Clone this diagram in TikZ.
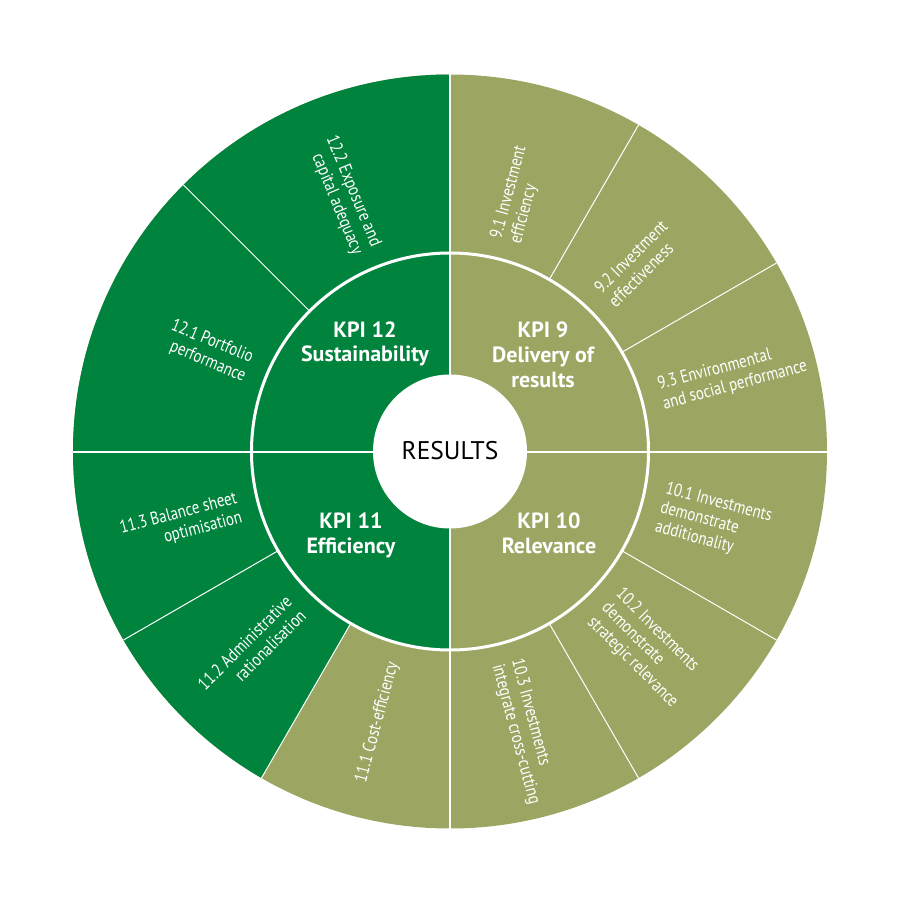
\documentclass[tikz,border=0pt]{standalone}
\usepackage{fontspec}
\setmainfont{PT Sans}
\newfontfamily\condfont[FakeStretch=0.83]{PT Sans}
\definecolor{dkgreen}{RGB}{0,132,61}
\definecolor{olivegr}{RGB}{156,166,98}
\begin{document}
\begin{tikzpicture}[x=1pt,y=1pt,
  seglabel/.style={text=white, font=\condfont\fontsize{18}{20}\selectfont, inner sep=0pt},
  outlabel/.style={seglabel, anchor=west, align=left},
  inlabel/.style={seglabel, anchor=east, align=right},
  kpilabel/.style={text=white, font=\bfseries\fontsize{22}{25}\selectfont, inner sep=0pt, anchor=base},
  divider/.style={draw=white, line width=1pt},
  quadline/.style={draw=white, line width=2pt},
  ringline/.style={draw=white, line width=3pt},
]
\useasboundingbox (-450,-455.5) rectangle (462,451.5);
\def\R{377}
\def\r{198.5}
\def\lr{218}
% base disk and green sectors
\fill[olivegr] (0,0) circle[radius=\R];
\fill[dkgreen] (0,0) -- (90:\R) arc[start angle=90, end angle=240, radius=\R] -- cycle;
\fill[dkgreen] (0,0) -- (180:\r) arc[start angle=180, end angle=270, radius=\r] -- cycle;
% named points
\coordinate (c) at (0,0);
\foreach \a/\n in {30/d1,60/d2,-30/d3,-60/d4,-120/d5,-150/d6,135/d7}{
  \coordinate (\n i) at (\a:\r);
  \coordinate (\n o) at (\a:\R);
  \draw[divider] (\n i) -- (\n o);
}
\coordinate (east) at (0:\R);
\coordinate (west) at (180:\R);
\coordinate (north) at (90:\R);
\coordinate (south) at (-90:\R);
\draw[quadline] (west) -- (east);
\draw[quadline] (south) -- (north);
\draw[ringline] (c) circle[radius=\r];
% centre
\node[circle, fill=white, minimum size=154pt, inner sep=0pt] (core) at (c) {};
\node[anchor=base, font=\fontsize{25.5}{30}\selectfont, inner sep=0pt] (res) at (0,-8.5) {RESULTS};
% KPI labels
\node[kpilabel] (k9a) at (93,113.5) {KPI 9};
\node[kpilabel] (k9b) at (93,88.5) {Delivery of};
\node[kpilabel] (k9c) at (93,63.5) {results};
\node[kpilabel] (k10a) at (99,-76.5) {KPI 10};
\node[kpilabel] (k10b) at (99,-101.5) {Relevance};
\node[kpilabel] (k11a) at (-99,-76.5) {KPI 11};
\node[kpilabel] (k11b) at (-99,-101.5) {Efficiency};
\node[kpilabel] (k12a) at (-85,113.5) {KPI 12};
\node[kpilabel] (k12b) at (-85,89.5) {Sustainability};
% outer labels
\node[outlabel, rotate=75] (s91) at (75:\lr) {9.1 Investment\\efficiency};
\node[outlabel, rotate=45] (s92) at (45:\lr) {9.2 Investment\\effectiveness};
\node[outlabel, rotate=15] (s93) at (15:\lr) {9.3 Environmental\\and social performance};
\node[outlabel, rotate=-15] (s101) at (-15:\lr) {10.1 Investments\\demonstrate\\additionality};
\node[outlabel, rotate=-45] (s102) at (-45:\lr) {10.2 Investments\\demonstrate\\strategic relevance};
\node[outlabel, rotate=-75] (s103) at (-75:\lr) {10.3 Investments\\integrate cross-cutting};
\node[inlabel, rotate=75] (s111) at (-105:\lr) {11.1 Cost-efficiency};
\node[inlabel, rotate=45] (s112) at (-135:\lr) {11.2 Administrative\\rationalisation};
\node[inlabel, rotate=15] (s113) at (-165:\lr) {11.3 Balance sheet\\optimisation};
\node[inlabel, rotate=-22.5] (s121) at (157.5:\lr) {12.1 Portfolio\\performance};
\node[inlabel, rotate=-67.5] (s122) at (112.5:\lr) {12.2 Exposure and\\capital adequacy};
\end{tikzpicture}
\end{document}
